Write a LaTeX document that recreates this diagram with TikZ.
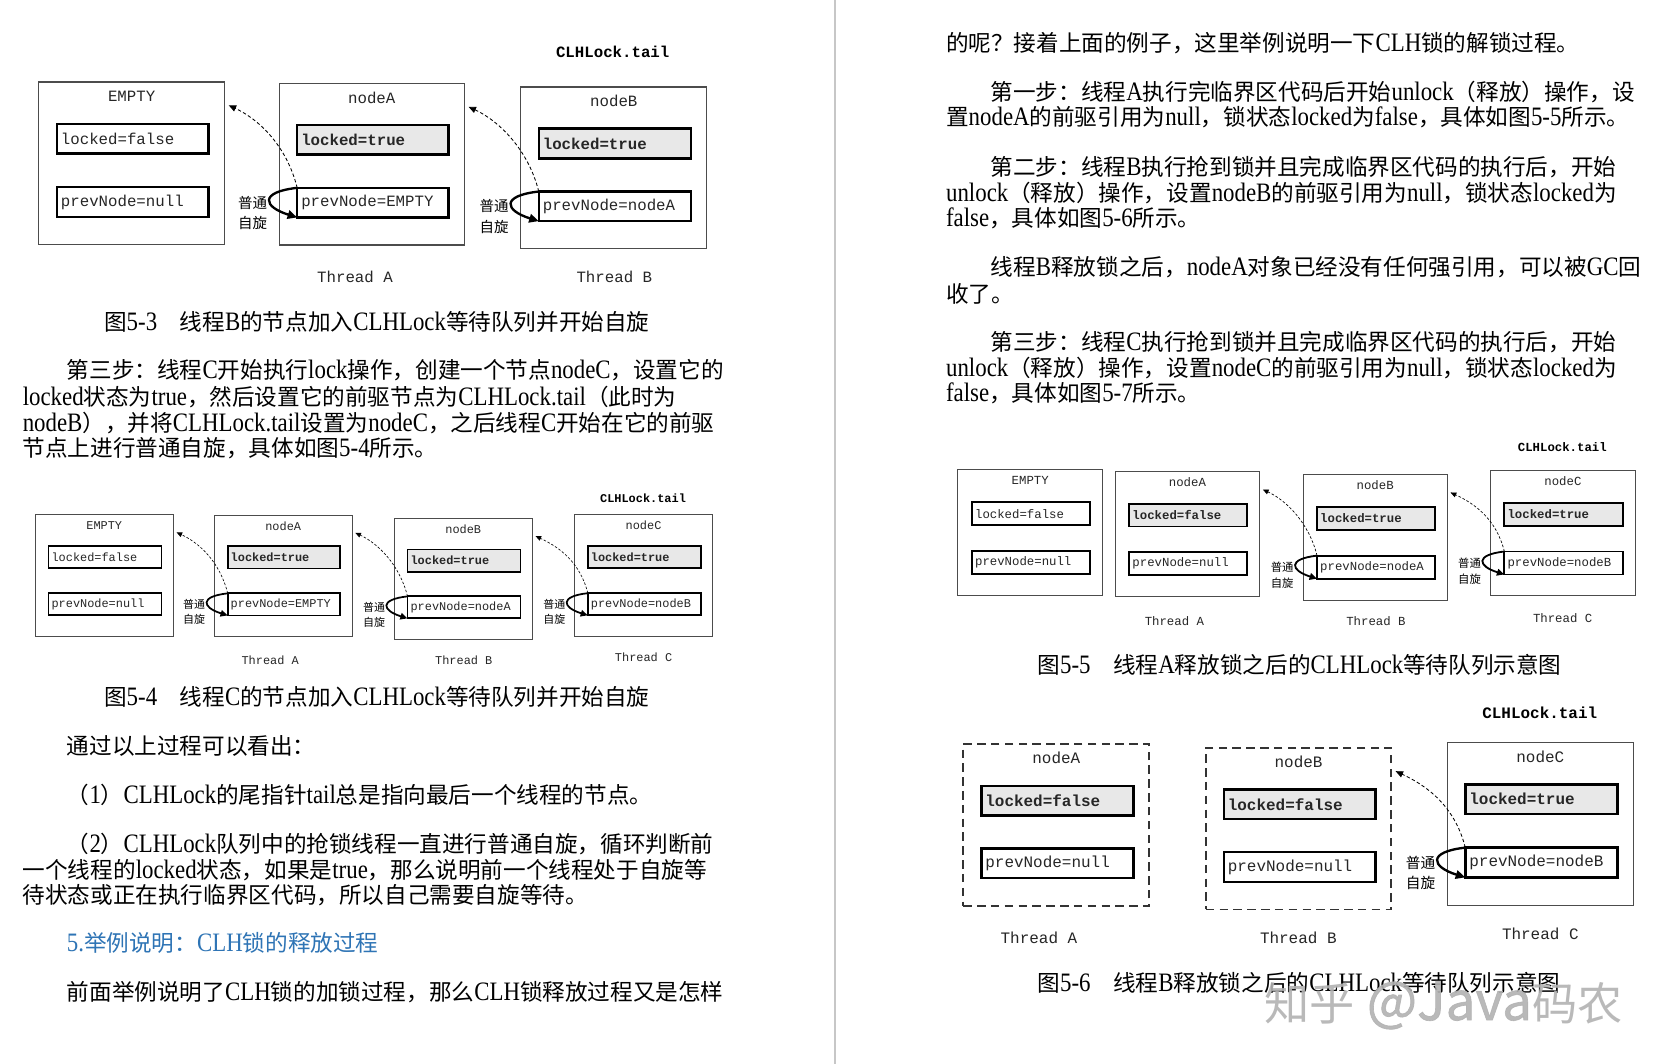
\documentclass[tikz,border=0pt]{standalone}
\usepackage{fontspec}
\setmainfont[FakeStretch=0.86]{Liberation Serif}
\newfontfamily\cjkf[Scale=0.85]{Noto Sans CJK SC}
\newfontfamily\monof{Liberation Mono}
\newfontfamily\wmf[FakeBold=1.2]{Noto Sans CJK SC}
\usetikzlibrary{arrows.meta,calc}
% automatic switch to the CJK font for CJK characters
\XeTeXinterchartokenstate=1
\chardef\cjkcls=7
\makeatletter
\def\setcjkrange#1#2{\count@=#1\relax
  \loop\XeTeXcharclass\count@=\cjkcls
  \ifnum\count@<#2\relax\advance\count@\@ne\repeat}
\makeatother
\setcjkrange{"3000}{"303F}
\setcjkrange{"4E00}{"9FFF}
\setcjkrange{"FF00}{"FFEF}
\let\cjkprevfont\relax
\def\cjkenter{\expandafter\let\expandafter\cjkprevfont\the\font\cjkf}
\XeTeXinterchartoks 0 \cjkcls = {\cjkenter}
\XeTeXinterchartoks 4095 \cjkcls = {\cjkenter}
\XeTeXinterchartoks \cjkcls 0 = {\cjkprevfont}
\XeTeXinterchartoks \cjkcls 4095 = {\cjkprevfont}

\definecolor{lockgray}{RGB}{232,232,232}
\definecolor{headblue}{RGB}{46,116,181}
\newcommand\bodyfont{\fontsize{12.5}{15}\rmfamily}
\newcommand\figfont{\fontsize{\figfs}{\figfs}\monof}
\newcommand\setfig[2]{%
  \def\ff{#1}\def\figfs{#2}%
  \pgfmathsetmacro\spfs{#2*0.92/0.85}%
  \pgfmathsetmacro\lwo{0.6*#1}%
  \pgfmathsetmacro\lwi{1.15*#1}%
  \pgfmathsetmacro\lwa{1.1*#1}%
  \pgfmathsetmacro\lwd{0.4*#1}%
  \pgfmathsetmacro\dsa{1.6*#1}\pgfmathsetmacro\dsb{1.1*#1}%
  \pgfmathsetmacro\arl{4.5*#1}\pgfmathsetmacro\arw{4*#1}%
  \pgfmathsetmacro\dal{3.5*#1}\pgfmathsetmacro\daw{3*#1}}
\tikzset{
  outerbox/.style={draw=black!70, line width=\lwo pt, inner sep=0pt, outer sep=0pt},
  innerbox/.style={draw=black, line width=\lwi pt, inner ysep=0pt, outer sep=0pt, align=left, text=black!85},
  lockg/.style={fill=lockgray, font=\figfont\bfseries},
  lockw/.style={fill=white, font=\figfont},
  ttl/.style={font=\figfont, inner sep=0pt, text=black!85},
  tailtxt/.style={font=\figfont\bfseries, inner sep=0pt},
  thr/.style={font=\figfont, inner sep=0pt, text=black!85},
  spintxt/.style={font=\fontsize{\spfs}{\spfs}\monof, inner sep=0pt},
  spinarc/.style={line width=\lwa pt, -{Triangle[length=\arl pt,width=\arw pt]}},
  depend/.style={line width=\lwd pt, dash pattern=on \dsa pt off \dsb pt, -{Triangle[length=\dal pt,width=\daw pt]}},
  txt/.style={anchor=west, inner sep=0pt, font=\bodyfont},
}
% #1 locked style, #2 name, #3 x1, #4 y1, #5 x2, #6 y2, #7 title, #8 locked text, #9 prev text
\newcommand\clhbox[9][lockg]{%
  \pgfmathsetmacro\bw{#5-#3}\pgfmathsetmacro\bh{#6-#4}%
  \pgfmathsetmacro\cx{(#3+#5)/2}\pgfmathsetmacro\cy{(#4+#6)/2}%
  \pgfmathsetmacro\ow{\bw*0.5}\pgfmathsetmacro\oh{\bh*0.5}%
  \pgfmathsetmacro\iw{0.817*\bw*0.5}\pgfmathsetmacro\ih{0.183*\bh*0.5}%
  \pgfmathsetmacro\ix{0.022*\bw*0.5}\pgfmathsetmacro\itw{\iw-2*\ix}%
  \pgfmathsetmacro\icx{#3+0.5055*\bw}%
  \pgfmathsetmacro\ty{#4+0.087*\bh}\pgfmathsetmacro\ly{#4+0.349*\bh}\pgfmathsetmacro\py{#4+0.7375*\bh}%
  \node[outerbox, minimum width=\ow pt, minimum height=\oh pt] (#2) at (\cx,\cy) {};
  \node[ttl] (#2-t) at (\cx,\ty) {#7};
  \node[innerbox, #1, minimum width=\iw pt, minimum height=\ih pt, inner xsep=\ix pt, text width=\itw pt] (#2-l) at (\icx,\ly) {#8};
  \node[innerbox, lockw, minimum width=\iw pt, minimum height=\ih pt, inner xsep=\ix pt, text width=\itw pt] (#2-p) at (\icx,\py) {#9};
}
\newcommand\dep[2]{%
  \draw[depend] (#1-p.north west) .. controls +({-10*\ff},{-40*\ff}) and +({28*\ff},{13*\ff}) .. ($(#2.north east)+({4*\ff},{22*\ff})$);}
\newcommand\spin[1]{%
  \draw[spinarc] (#1-p.north west) .. controls +({-36*\ff},{4*\ff}) and +({-32*\ff},{-10*\ff}) .. (#1-p.south west);
  \node[spintxt] (#1-s1) at ($(#1-p.west)+({-42*\ff},{0*\ff})$) {普通};
  \node[spintxt] (#1-s2) at ($(#1-p.west)+({-42*\ff},{19*\ff})$) {自旋};}

\begin{document}
\begin{tikzpicture}[x=0.5pt, y=-0.5pt]
\fill[white] (0,0) rectangle (1569,1000);
\useasboundingbox (0,0) rectangle (1569,1000);
\coordinate (divtop) at (785,0);
\coordinate (divbot) at (785,1000);
\draw[black!22, line width=0.6pt] (divtop) -- (divbot);

% ---------- Figure 5-3 ----------
\setfig{1}{7.4}
\node[tailtxt] (t3) at (576,48.6) {CLHLock.tail};
\clhbox[lockw]{a3e}{36.5}{77}{211}{230}{EMPTY}{locked=false}{prevNode=null}
\clhbox{a3a}{262.5}{78.4}{436.5}{230.4}{nodeA}{locked=true}{prevNode=EMPTY}
\clhbox{a3b}{489.5}{81.8}{664.5}{233.9}{nodeB}{locked=true}{prevNode=nodeA}
\dep{a3a}{a3e}
\dep{a3b}{a3a}
\spin{a3a}
\spin{a3b}
\node[thr] (a3ta) at (333.7,260) {Thread A};
\node[thr] (a3tb) at (577.5,260) {Thread B};
\node[txt] (cap3) at (97.5,302.5) {图5-3　线程B的节点加入CLHLock等待队列并开始自旋};

% ---------- left page text ----------
\node[txt] (l1) at (62.5,347.7) {第三步：线程C开始执行lock操作，创建一个节点nodeC，设置它的};
\node[txt] (l2) at (21,372.8) {locked状态为true，然后设置它的前驱节点为CLHLock.tail（此时为};
\node[txt] (l3) at (21,397.9) {nodeB），并将CLHLock.tail设置为nodeC，之后线程C开始在它的前驱};
\node[txt] (l4) at (21,421.4) {节点上进行普通自旋，具体如图5-4所示。};

% ---------- Figure 5-4 ----------
\setfig{0.75}{5.6}
\node[tailtxt] (t4) at (604.5,468) {CLHLock.tail};
\clhbox[lockw]{b4e}{33}{484}{163}{598}{EMPTY}{locked=false}{prevNode=null}
\clhbox{b4a}{201.5}{484.4}{331}{598}{nodeA}{locked=true}{prevNode=EMPTY}
\clhbox{b4b}{370.5}{487.5}{500.5}{600.7}{nodeB}{locked=true}{prevNode=nodeA}
\clhbox{b4c}{540}{484}{670}{598}{nodeC}{locked=true}{prevNode=nodeB}
\dep{b4a}{b4e}
\dep{b4b}{b4a}
\dep{b4c}{b4b}
\spin{b4a}
\spin{b4b}
\spin{b4c}
\node[thr] (b4ta) at (254,621) {Thread A};
\node[thr] (b4tb) at (436,621) {Thread B};
\node[thr] (b4tc) at (605,617.5) {Thread C};
\node[txt] (cap4) at (97.5,655) {图5-4　线程C的节点加入CLHLock等待队列并开始自旋};

\node[txt] (l5) at (62.5,701.3) {通过以上过程可以看出：};
\node[txt] (l6) at (62.5,747.3) {（1）CLHLock的尾指针tail总是指向最后一个线程的节点。};
\node[txt] (l7) at (62.5,793.4) {（2）CLHLock队列中的抢锁线程一直进行普通自旋，循环判断前};
\node[txt] (l8) at (21,817.9) {一个线程的locked状态，如果是true，那么说明前一个线程处于自旋等};
\node[txt] (l9) at (21,841.4) {待状态或正在执行临界区代码，所以自己需要自旋等待。};
\node[txt, text=headblue] (l10) at (62.5,886.8) {5.举例说明：CLH锁的释放过程};
\node[txt] (l11) at (62.5,932.3) {前面举例说明了CLH锁的加锁过程，那么CLH锁释放过程又是怎样};

% ---------- right page text ----------
\node[txt] (r1) at (889,40.8) {的呢？接着上面的例子，这里举例说明一下CLH锁的解锁过程。};
\node[txt] (r2) at (931,86.2) {第一步：线程A执行完临界区代码后开始unlock（释放）操作，设};
\node[txt] (r3) at (889,110.3) {置nodeA的前驱引用为null，锁状态locked为false，具体如图5-5所示。};
\node[txt] (r4) at (931,156.7) {第二步：线程B执行抢到锁并且完成临界区代码的执行后，开始};
\node[txt] (r5) at (889,181.2) {unlock（释放）操作，设置nodeB的前驱引用为null，锁状态locked为};
\node[txt] (r6) at (889,205.3) {false，具体如图5-6所示。};
\node[txt] (r7) at (931,250.8) {线程B释放锁之后，nodeA对象已经没有任何强引用，可以被GC回};
\node[txt] (r8) at (889,275.9) {收了。};
\node[txt] (r9) at (931,321.3) {第三步：线程C执行抢到锁并且完成临界区代码的执行后，开始};
\node[txt] (r10) at (889,345.8) {unlock（释放）操作，设置nodeC的前驱引用为null，锁状态locked为};
\node[txt] (r11) at (889,369.9) {false，具体如图5-7所示。};

% ---------- Figure 5-5 ----------
\setfig{0.78}{5.8}
\node[tailtxt] (t5) at (1468.7,420.4) {CLHLock.tail};
\clhbox[lockw]{c5e}{900.5}{441.7}{1036.5}{559.9}{EMPTY}{locked=false}{prevNode=null}
\clhbox{c5a}{1048.5}{443}{1184}{561}{nodeA}{locked=false}{prevNode=null}
\clhbox{c5b}{1225}{445.8}{1360.5}{564.3}{nodeB}{locked=true}{prevNode=nodeA}
\clhbox{c5c}{1401}{442.3}{1537.5}{560.2}{nodeC}{locked=true}{prevNode=nodeB}
\dep{c5b}{c5a}
\dep{c5c}{c5b}
\spin{c5b}
\spin{c5c}
\node[thr] (c5ta) at (1104,584.3) {Thread A};
\node[thr] (c5tb) at (1293.5,584.3) {Thread B};
\node[thr] (c5tc) at (1469,581.2) {Thread C};
\node[txt] (cap5) at (975,625) {图5-5　线程A释放锁之后的CLHLock等待队列示意图};

% ---------- Figure 5-6 ----------
\setfig{1}{7.5}
\node[tailtxt] (t6) at (1447.5,670.5) {CLHLock.tail};
\begin{scope}[outerbox/.append style={draw=black!80, line width=0.9pt, dash pattern=on 4pt off 2.5pt}]
\clhbox{d6a}{905.5}{699.6}{1080.5}{851.6}{nodeA}{locked=false}{prevNode=null}
\clhbox{d6b}{1133.5}{703}{1308}{855}{nodeB}{locked=false}{prevNode=null}
\end{scope}
\clhbox{d6c}{1360.5}{698}{1535.5}{851}{nodeC}{locked=true}{prevNode=nodeB}
\dep{d6c}{d6b}
\spin{d6c}
\node[thr] (d6ta) at (976.7,882) {Thread A};
\node[thr] (d6tb) at (1220.5,882) {Thread B};
\node[thr] (d6tc) at (1448,877.6) {Thread C};
\node[txt] (cap6) at (975,924) {图5-6　线程B释放锁之后的CLHLock等待队列示意图};
\node[inner sep=0pt, text=black!30, opacity=0.9, font=\fontsize{25}{27}\wmf] (wm) at (1357,945) {知乎 @Java码农};
\end{tikzpicture}
\end{document}
